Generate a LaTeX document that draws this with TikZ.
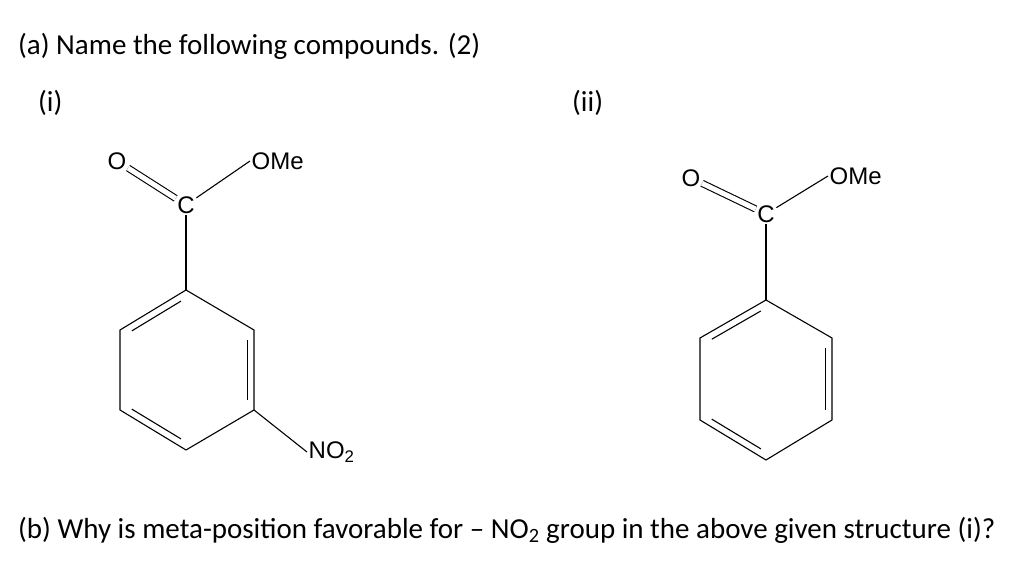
\documentclass[tikz,border=0pt]{standalone}
\usepackage{fontspec}
\setmainfont{Carlito}
\newfontfamily\chemf{Liberation Sans}
\usetikzlibrary{calc}
\begin{document}
\begin{tikzpicture}[x=1pt,y=-1pt,
  atom/.style={font=\chemf\fontsize{24}{24}\selectfont,inner sep=1.5pt},
  bond/.style={line width=1.1pt},
  txt/.style={font=\fontsize{29}{32}\selectfont,anchor=base west,inner sep=0}]
\useasboundingbox (0,0) rectangle (1018,564);
\node[txt] (ta) at (18,55) {(a) Name the following compounds. (2)};
\node[txt] (ti) at (38,112) {(i)};
\node[txt] (tii) at (572,112) {(ii)};
\node[txt] (tb) at (18,538) {(b) Why is meta-position favorable for -- NO\textsubscript{2} group in the above given structure (i)?};
% structure i
\node[atom] (O1) at (117,161) {O};
\node[atom] (C1) at (186,205) {C};
\node[atom,anchor=west] (M1) at (250,161) {OMe};
\coordinate (a1) at (186,290); \coordinate (b1) at (254,330); \coordinate (c1) at (254,410);
\coordinate (d1) at (186,450); \coordinate (e1) at (120,410); \coordinate (f1) at (120,330);
\coordinate (g1) at (187,370);
\node[atom,anchor=west] (N1) at (307,452) {NO\textsubscript{2}};
\draw[bond,double distance=5pt] (O1) -- (C1);
\draw[bond] (C1) -- (M1.west);
\draw[bond] (C1) -- (a1);
\draw[bond] (a1)--(b1)--(c1)--(d1)--(e1)--(f1)--cycle;
\draw[bond] (c1) -- (N1.west);
\draw[bond,shorten <=6pt,shorten >=6pt] ($(g1)!0.9!(f1)$) -- ($(g1)!0.9!(a1)$);
\draw[bond,shorten <=6pt,shorten >=6pt] ($(g1)!0.9!(b1)$) -- ($(g1)!0.9!(c1)$);
\draw[bond,shorten <=6pt,shorten >=6pt] ($(g1)!0.9!(d1)$) -- ($(g1)!0.9!(e1)$);
% structure ii
\node[atom] (O2) at (691,178) {O};
\node[atom] (C2) at (766,214) {C};
\node[atom,anchor=west] (M2) at (828,176) {OMe};
\coordinate (a2) at (766,300); \coordinate (b2) at (832,338); \coordinate (c2) at (832,420);
\coordinate (d2) at (766,460); \coordinate (e2) at (700,420); \coordinate (f2) at (700,338);
\coordinate (g2) at (766,380);
\draw[bond,double distance=5pt] (O2) -- (C2);
\draw[bond] (C2) -- (M2.west);
\draw[bond] (C2) -- (a2);
\draw[bond] (a2)--(b2)--(c2)--(d2)--(e2)--(f2)--cycle;
\draw[bond,shorten <=6pt,shorten >=6pt] ($(g2)!0.9!(f2)$) -- ($(g2)!0.9!(a2)$);
\draw[bond,shorten <=6pt,shorten >=6pt] ($(g2)!0.9!(b2)$) -- ($(g2)!0.9!(c2)$);
\draw[bond,shorten <=6pt,shorten >=6pt] ($(g2)!0.9!(d2)$) -- ($(g2)!0.9!(e2)$);
\end{tikzpicture}
\end{document}
